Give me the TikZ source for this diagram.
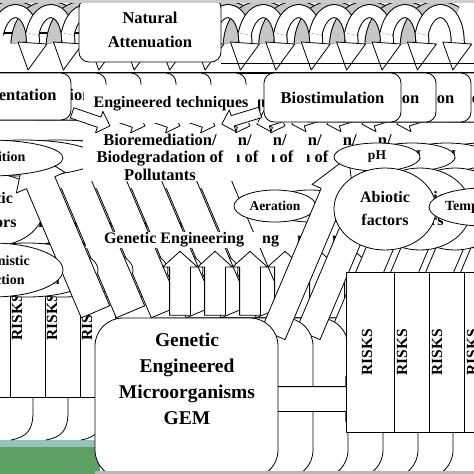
\documentclass[tikz,border=0pt]{standalone}
\usepackage{fontspec}
\setmainfont{Liberation Serif}
\usetikzlibrary{shapes,arrows,positioning}
\definecolor{photogreen}{RGB}{92,160,100}
\definecolor{phototop}{RGB}{150,196,186}

\begin{document}
\begin{tikzpicture}[x=1pt, y=-1pt, line join=round,
    box/.style={rectangle, rounded corners=10pt, draw, thick, fill=white, align=center, font=\bfseries\fontsize{16.5}{24}\selectfont},
    oval/.style={ellipse, draw, thick, fill=white, align=center, inner sep=0pt, font=\bfseries\fontsize{14}{19}\selectfont},
    lbl/.style={fill=white, align=center, inner ysep=1pt, inner xsep=10pt, font=\bfseries\fontsize{16}{17.5}\selectfont},
    riskbox/.style={rectangle, draw, thick, fill=white, minimum width=48pt, minimum height=160pt},
    risktext/.style={rotate=90, font=\bfseries\fontsize{15.5}{18}\selectfont},
    hollow/.style={single arrow, draw, thick, fill=white, inner xsep=0pt}]

    \useasboundingbox (0,0) rectangle (474,474);
    \clip (0,0) rectangle (474,474);
    \fill[white] (0,0) rectangle (474,474);
    \fill[photogreen] (0,440) rectangle (100,474);
    \fill[phototop] (0,440) rectangle (100,447);

    % curved arrows along the top
    \draw[very thick] (0,33) -- (80,33);
    \foreach \k in {0,...,12} {
        \pgfmathsetmacro\xo{25+35.4*\k}
        \draw[line width=16pt] (\xo-42,44) .. controls (\xo-40,10) and (\xo-14,2) .. (\xo+6,14);
        \draw[line width=14pt, gray!45] (\xo-42,44) .. controls (\xo-40,10) and (\xo-14,2) .. (\xo+6,14);
    }
    \foreach \k in {0,...,12} {
        \pgfmathsetmacro\xo{25+35.4*\k}
        \draw[line width=14pt] (\xo-28,34) .. controls (\xo-22,2) and (\xo+8,2) .. (\xo+8,44);
        \draw[line width=12pt, white] (\xo-28,34) .. controls (\xo-22,2) and (\xo+8,2) .. (\xo+8,44);
        \draw[thick, fill=white] (\xo-7,42) -- (\xo+22,44) -- (\xo+3,70) -- cycle;
    }
    \draw[thick] (221,63) -- (474,63);
    \draw[very thick] (0,73) -- (474,73);

    \node[box, minimum width=142pt, minimum height=64pt] (natatt) at (150,30) {Natural\\Attenuation};

    % the whole lower part, smeared to the right
    \foreach \dx in {175,140,105,70,35,0} {
    \begin{scope}[xshift=\dx pt]
        \draw[thick] (-2,380) -- (-2,412) .. controls (-2,430) and (-8,437) .. (-24,440);
        \ifnum\dx<140
            \node[riskbox] (risksl) at (-14,317) {};
            \node[risktext] at ([xshift=-4pt]risksl.center) {RISKS};
        \fi

        \node[box, minimum width=150pt, minimum height=47pt] (bioaug) at (-4,96.5) {Bioaugmentation};
        \node[box, minimum width=137pt, minimum height=49pt] (biostim) at (332.5,97.5) {Biostimulation};
        \node[lbl, minimum height=38pt] (engtech) at (171,104) {Engineered techniques};
        \node[hollow, minimum height=40pt, inner ysep=5pt, single arrow head extend=6pt, rotate=-19] (augarrow) at (88.5,118.5) {};
        \node[hollow, minimum height=40pt, inner ysep=5pt, single arrow head extend=6pt, rotate=197] (stimarrow) at (243.5,117.5) {};
        \node[lbl, inner xsep=14pt, font=\bfseries\fontsize{16.5}{17.5}\selectfont] (bioremed) at (160,157) {Bioremediation/\\Biodegradation of\\Pollutants};

        \node[oval, minimum width=100pt, minimum height=72pt, font=\bfseries\fontsize{16}{24}\selectfont] (biotic) at (-7,210) {Biotic\\factors};
        \node[lbl, inner xsep=18pt] (geneng) at (174,240) {Genetic Engineering};
        \node[hollow, minimum height=178pt, inner ysep=15pt, single arrow head extend=11pt, single arrow tip angle=70, rotate=113] (gembiotic) at (65,240) {};
        \node[oval, minimum width=150pt, minimum height=36pt] (compet) at (-12,158) {Competition};
        \node[oval, minimum width=142pt, minimum height=54pt] (antag) at (-8,270) {Antagonistic\\interaction};

        \node[hollow, minimum height=64pt, inner ysep=10pt, single arrow head extend=7pt, single arrow tip angle=96, rotate=90] (gemup) at (180,288) {};
        \node[oval, minimum width=82pt, minimum height=32pt, font=\bfseries\fontsize{13.5}{16}\selectfont] (aer) at (275,206) {Aeration};
        \node[hollow, minimum height=193pt, inner ysep=12.5pt, single arrow head extend=10pt, single arrow tip angle=60, rotate=67] (gemabiotic) at (306.5,256) {};
        \node[oval, minimum width=86pt, minimum height=28pt, font=\bfseries\fontsize{13.5}{16}\selectfont] (ph) at (377,157) {pH};
        \node[oval, minimum width=102pt, minimum height=82pt, font=\bfseries\fontsize{16}{23}\selectfont] (abiotic) at (385,209) {Abiotic\\factors};
        \node[oval, minimum width=104pt, minimum height=38pt] (temp) at (484,207) {Temperature};

        \node[hollow, minimum height=92pt, inner ysep=12pt, single arrow head extend=10pt] (gemrisk) at (316,399) {};
        \node[riskbox] (risksr) at (370,352) {};
        \node[risktext] at ([xshift=-3pt]risksr.center) {RISKS};
        \node[box, rounded corners=28pt, minimum width=183pt, minimum height=160pt] (gem) at (186.5,398) {};
        \node[font=\bfseries\fontsize{19.5}{26}\selectfont, align=center] (gemtext) at (187,379) {Genetic\\Engineered\\Microorganisms\\GEM};
    \end{scope}
    }

    \fill[gray!55] (95,471) rectangle (474,474);
    \fill[gray!40] (0,0) rectangle (474,2.5);
\end{tikzpicture}
\end{document}
